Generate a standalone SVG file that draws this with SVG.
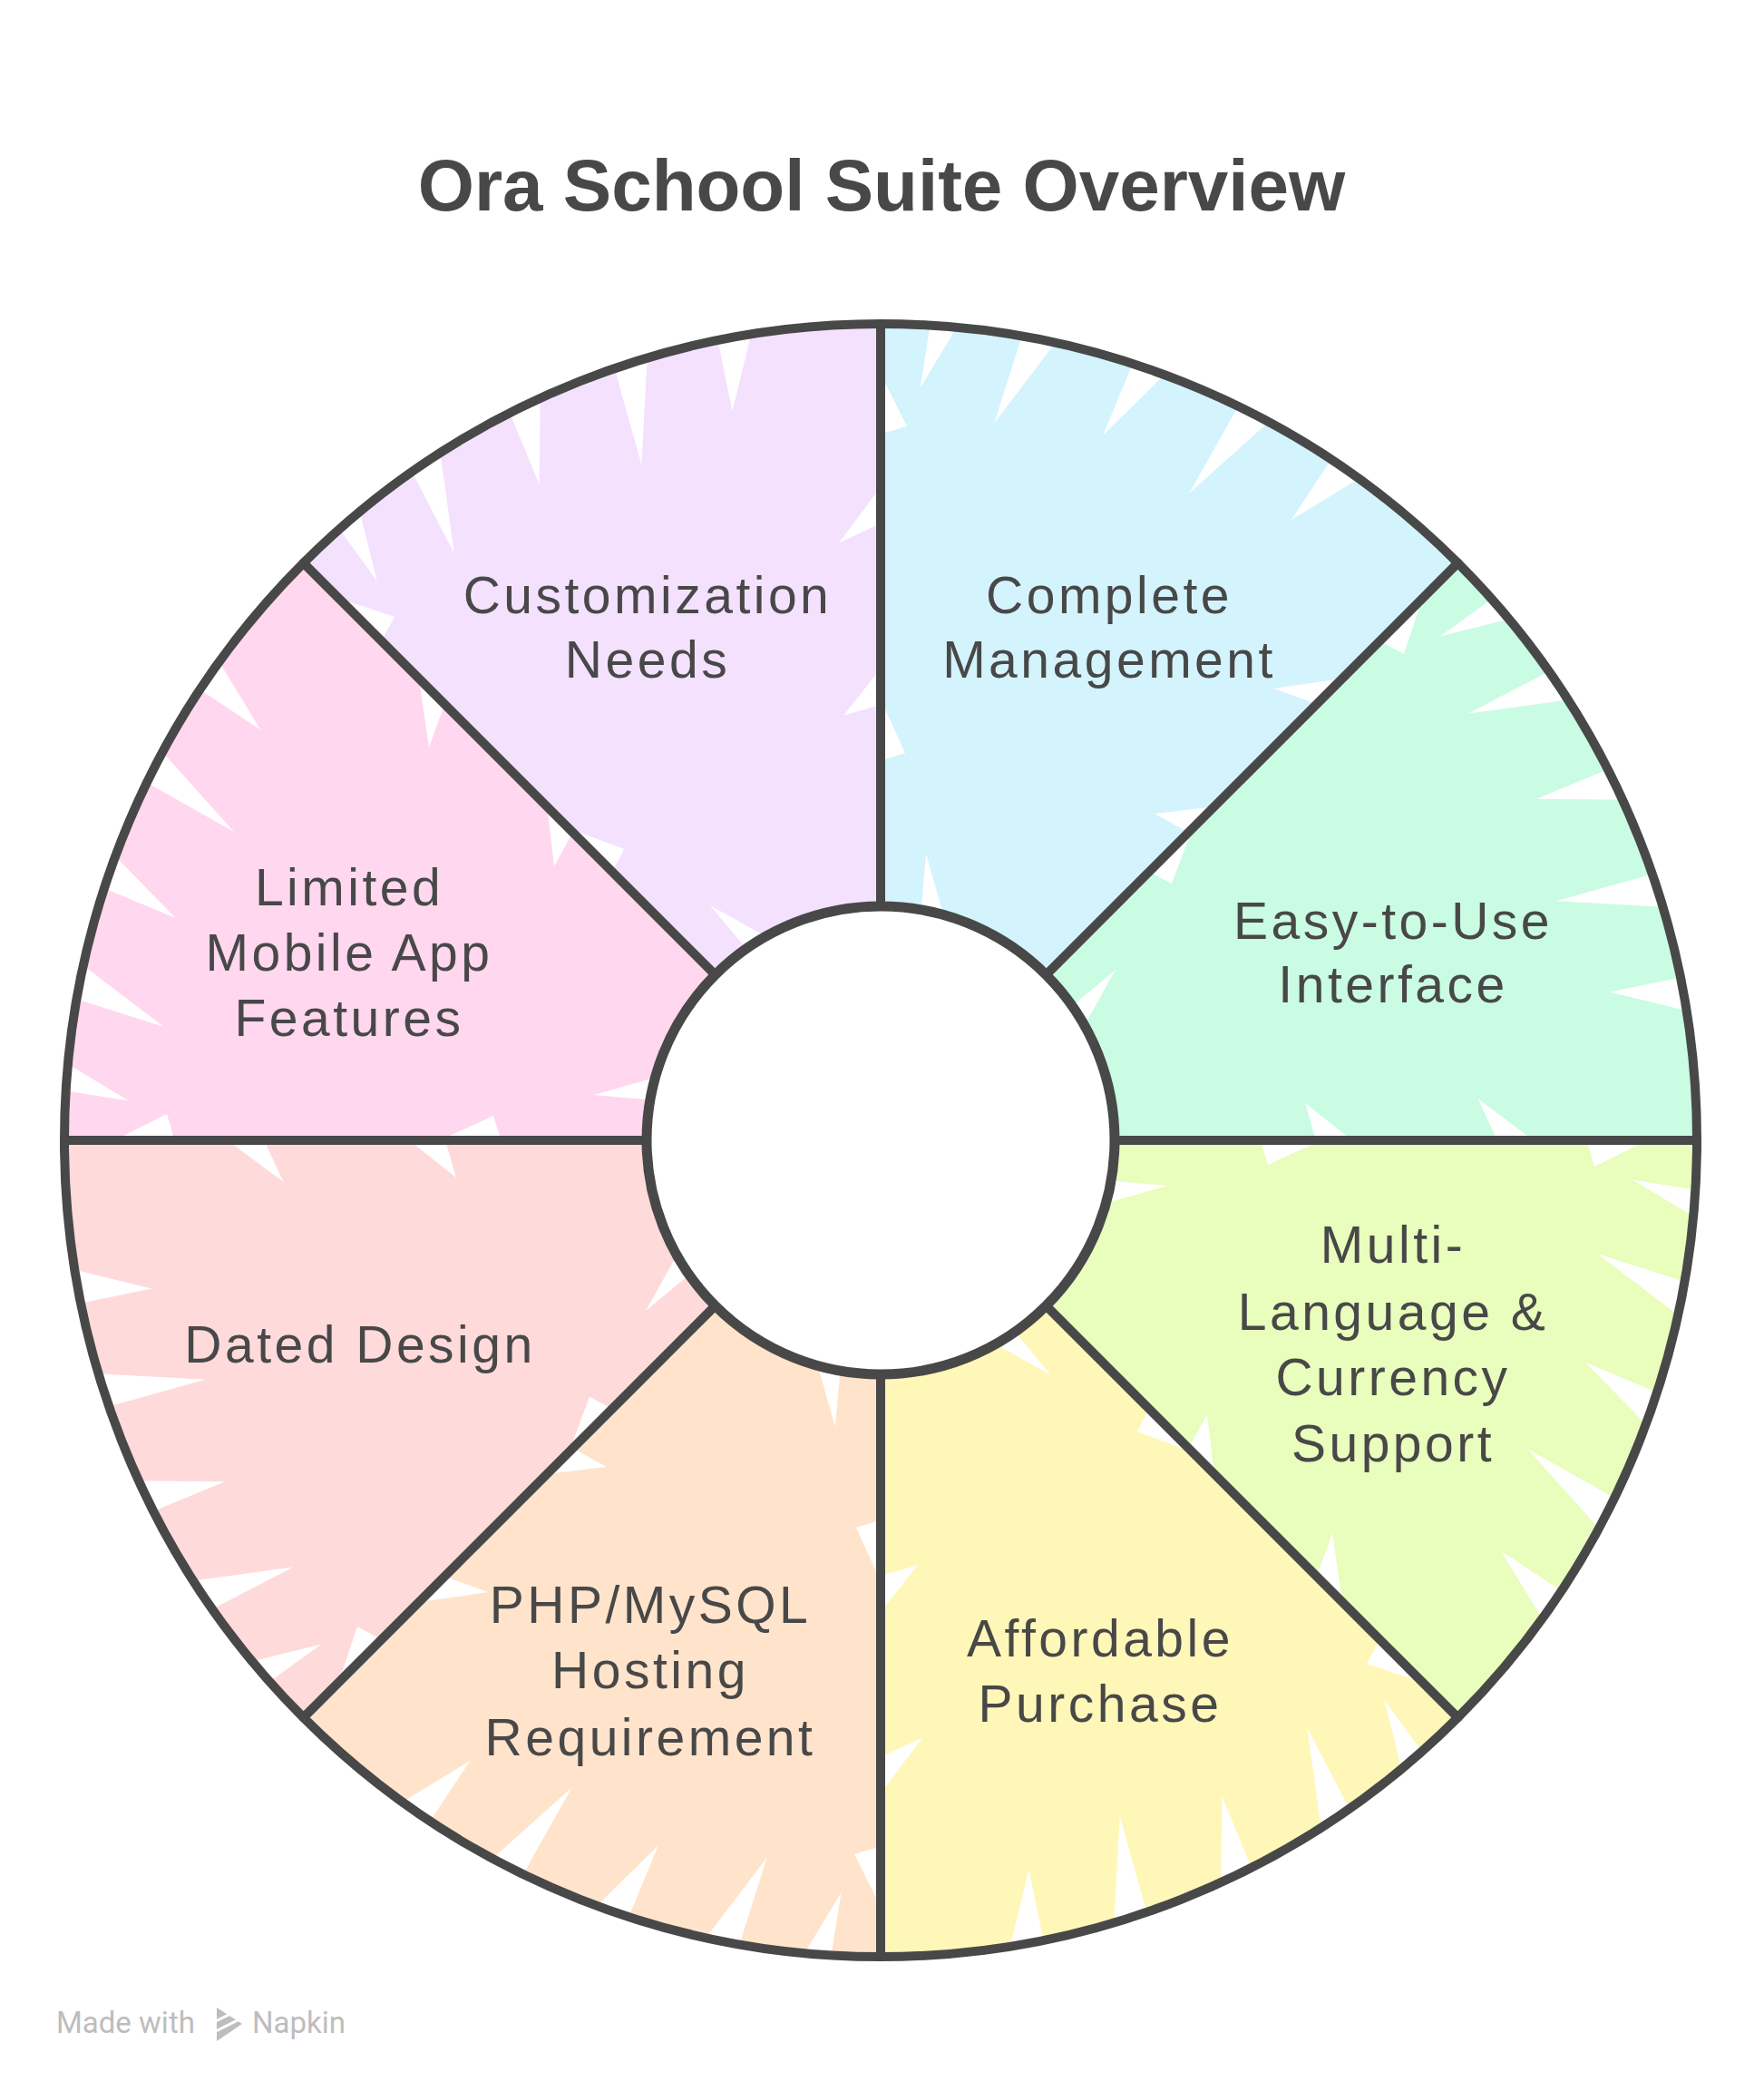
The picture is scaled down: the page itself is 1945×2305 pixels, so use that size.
<svg xmlns="http://www.w3.org/2000/svg" width="1945" height="2305" viewBox="0 0 1945 2305">
  <style>
    .lbl { font-family: "Liberation Sans", "Open Sans", sans-serif; font-size: 57px; fill: #484848; text-anchor: middle; letter-spacing: 3.5px; }
    .ttl { font-family: "Liberation Sans", "Open Sans", sans-serif; font-size: 80px; font-weight: bold; fill: #484848; text-anchor: middle; }
    .edge { stroke: #484848; stroke-width: 10; stroke-linecap: round; fill: none; }
    .foot { font-family: Roboto, "Liberation Sans", sans-serif; font-size: 33px; fill: #BDBDBD; }
    .gap { fill: #ffffff; }
  </style>
  <defs>
    <g id="spikes">
      <polygon class="gap" points="1026.3,353.7 1057.7,356.2 1014.4,428.1"/>
      <polygon class="gap" points="1128.2,365.7 1166.9,373.4 1096.1,466.8"/>
      <polygon class="gap" points="1250.7,396.3 1287.9,409.3 1216.1,479.7"/>
      <polygon class="gap" points="1367.7,443.6 1402.8,461.7 1311.1,543.9"/>
      <polygon class="gap" points="1470.5,502.3 1503.0,524.8 1423.6,573.2"/>
      <polygon class="gap" points="966,402 1000,470 966,480"/>
      <polygon class="gap" points="966,760 998,830 966,840"/>
      <polygon class="gap" points="1480.1,747.9 1451.8,776.2 1404.0,758.9"/>
      <polygon class="gap" points="1338.7,889.3 1310.4,917.6 1273.1,897.0"/>
      <polygon class="gap" points="1015.3,1005.9 1041.3,1011.9 1021.1,940.9"/>
    </g>
  </defs>
  <rect width="1945" height="2305" fill="#ffffff"/>
  <text class="ttl" x="972" y="232">Ora School Suite Overview</text>

  <g id="seg-complete-management">
    <path d="M971 1257 L971 357 A900 900 0 0 1 1607.4 620.6 Z" fill="#D3F3FD"/>
    <use href="#spikes"/>
    <text class="lbl" x="1223" y="676">Complete</text>
    <text class="lbl" x="1223" y="747">Management</text>
  </g>
  <g id="seg-easy-interface">
    <path d="M971 1257 L1607.4 620.6 A900 900 0 0 1 1871 1257 Z" fill="#C9FCE3"/>
    <use href="#spikes" transform="rotate(45 971 1257)"/>
    <text class="lbl" x="1536" y="1035">Easy-to-Use</text>
    <text class="lbl" x="1536" y="1105">Interface</text>
  </g>
  <g id="seg-multi-language">
    <path d="M971 1257 L1871 1257 A900 900 0 0 1 1607.4 1893.4 Z" fill="#E9FDBC"/>
    <use href="#spikes" transform="rotate(90 971 1257)"/>
    <text class="lbl" x="1536" y="1392">Multi-</text>
    <text class="lbl" x="1536" y="1466">Language &amp;</text>
    <text class="lbl" x="1536" y="1538">Currency</text>
    <text class="lbl" x="1536" y="1611">Support</text>
  </g>
  <g id="seg-affordable-purchase">
    <path d="M971 1257 L1607.4 1893.4 A900 900 0 0 1 971 2157 Z" fill="#FFF7B8"/>
    <use href="#spikes" transform="rotate(135 971 1257)"/>
    <text class="lbl" x="1213" y="1826">Affordable</text>
    <text class="lbl" x="1213" y="1898">Purchase</text>
  </g>
  <g id="seg-php-hosting">
    <path d="M971 1257 L971 2157 A900 900 0 0 1 334.6 1893.4 Z" fill="#FFE4CB"/>
    <use href="#spikes" transform="rotate(180 971 1257)"/>
    <text class="lbl" x="717" y="1789">PHP/MySQL</text>
    <text class="lbl" x="717" y="1861">Hosting</text>
    <text class="lbl" x="717" y="1935">Requirement</text>
  </g>
  <g id="seg-dated-design">
    <path d="M971 1257 L334.6 1893.4 A900 900 0 0 1 71 1257 Z" fill="#FFDADA"/>
    <use href="#spikes" transform="rotate(225 971 1257)"/>
    <text class="lbl" x="397" y="1502">Dated Design</text>
  </g>
  <g id="seg-limited-mobile">
    <path d="M971 1257 L71 1257 A900 900 0 0 1 334.6 620.6 Z" fill="#FFD7EF"/>
    <use href="#spikes" transform="rotate(270 971 1257)"/>
    <text class="lbl" x="385" y="998">Limited</text>
    <text class="lbl" x="385" y="1070">Mobile App</text>
    <text class="lbl" x="385" y="1142">Features</text>
  </g>
  <g id="seg-customization">
    <path d="M971 1257 L334.6 620.6 A900 900 0 0 1 971 357 Z" fill="#F4E1FE"/>
    <use href="#spikes" transform="rotate(315 971 1257)"/>
    <text class="lbl" x="714" y="676">Customization</text>
    <text class="lbl" x="714" y="747">Needs</text>
  </g>

  <g id="connectors">
    <line class="edge" x1="971" y1="999" x2="971" y2="357"/>
    <line class="edge" x1="1153.4" y1="1074.6" x2="1607.4" y2="620.6"/>
    <line class="edge" x1="1229" y1="1257" x2="1871" y2="1257"/>
    <line class="edge" x1="1153.4" y1="1439.4" x2="1607.4" y2="1893.4"/>
    <line class="edge" x1="971" y1="1515" x2="971" y2="2157"/>
    <line class="edge" x1="788.6" y1="1439.4" x2="334.6" y2="1893.4"/>
    <line class="edge" x1="713" y1="1257" x2="71" y2="1257"/>
    <line class="edge" x1="788.6" y1="1074.6" x2="334.6" y2="620.6"/>
  </g>

  <g id="outer-ring">
    <circle class="edge" cx="971" cy="1257" r="900"/>
  </g>
  <g id="hub">
    <circle cx="971" cy="1257" r="258" fill="#ffffff" stroke="#484848" stroke-width="11"/>
  </g>

  <g id="footer">
    <text class="foot" x="62" y="2241">Made with</text>
    <polygon points="239,2213 267,2231 239,2250" fill="#BDBDBD"/>
    <line x1="236" y1="2229" x2="262" y2="2216" stroke="#ffffff" stroke-width="3"/>
    <line x1="236" y1="2240" x2="268" y2="2224" stroke="#ffffff" stroke-width="3"/>
    <text class="foot" x="278" y="2241">Napkin</text>
  </g>
</svg>
